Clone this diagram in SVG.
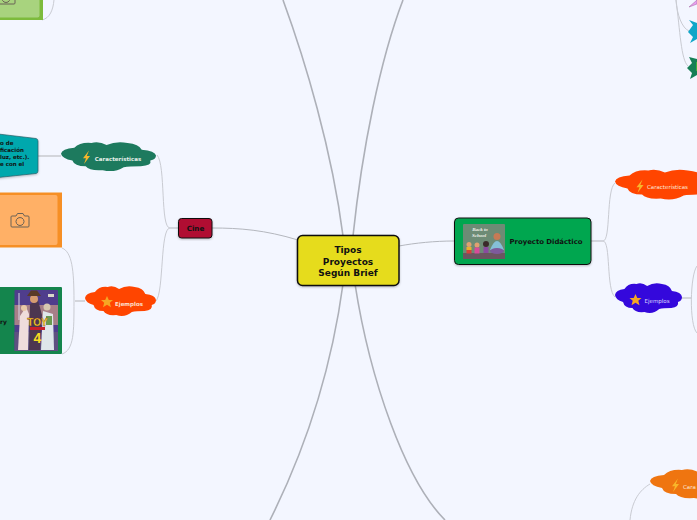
<svg xmlns="http://www.w3.org/2000/svg" width="697" height="520" viewBox="0 0 697 520">
<style>
text{font-family:"DejaVu Sans",sans-serif;text-anchor:middle}
.b{font-weight:700;fill:#111}
.l{text-anchor:start}
.w{font-weight:700;fill:#e6efe9;font-size:5.5px}
.t{font-weight:400;fill:#fde6d8;font-size:5.500px}
.c{fill:none;stroke:#c9cbd2;stroke-width:1}
.h{fill:none;stroke:#d3d5db;stroke-width:2}
.m{fill:none;stroke:#adb0b8;stroke-width:1.600}
.n{fill:none;stroke:#b4b7be;stroke-width:1}
</style>
<defs>
<filter id="s" x="-10%" y="-10%" width="120%" height="125%"><feDropShadow dx="0" dy="1" stdDeviation="1" flood-color="#000" flood-opacity=".25"/></filter>
<path id="cloud" d="M0 12Q1 7 14 6Q20 0 32 1Q40 -1 48 3Q58 -1 70 1Q82 2 85 8Q99 9 100 14Q100 18 94 19Q96 24 84 25Q72 25 66 26Q56 32 44 29Q30 30 26 25Q14 25 12 19Q1 17 0 12Z"/>
<path id="bolt" d="M3 -6.500L-3 1.200H0L-2 7L4 -1H0.800Z" fill="#f8b62a"/>
<path id="star" d="M0 -6L1.800 -2H6L2.800 .8L4 5.200L0 2.800L-4 5.200L-2.800 .8L-6 -2H-1.800Z" fill="#f6a623"/>
<path id="cam" d="M-8 -4H-4L-2.500 -6.500H3L4.500 -4H8Q9 -4 9 -3V6Q9 7 8 7H-8Q-9 7 -9 6V-3Q-9 -4 -8 -4Z M0 -2.500A4 4 0 1 0 .01 -2.500Z" fill="none" stroke="#6b6256" stroke-width="1"/>
</defs>
<rect width="697" height="520" fill="#f3f6ff"/>
<g id="connectors">
<path class="m" d="M283 0C305 60 332 150 343 236"/>
<path class="m" d="M403 0C380 60 362 150 353 236"/>
<path class="m" d="M343 284C330 380 300 460 270 520"/>
<path class="m" d="M355 284C370 380 405 480 445 520"/>
<path class="n" d="M298 240C265 230 240 228 212 228"/>
<path class="n" d="M399 246C415 243 435 241 454 241"/>
<path class="c" d="M178 228H170C160 228 166 165 157 155"/>
<path class="c" d="M178 228H170C160 228 164 292 156 301"/>
<path class="h" d="M61 156H38"/>
<path class="h" d="M85 301H75"/>
<path class="c" d="M62 248C72 252 74 270 74 301C74 332 74 350 62 354"/>
<path class="c" d="M591 241H603C611 241 606 190 615 183"/>
<path class="c" d="M591 241H603C611 241 606 290 615 297"/>
<path class="h" d="M681 298H691"/>
<path class="c" d="M697 266C690 275 689 325 697 333"/>
<path class="c" d="M630 520C632 500 640 490 650 484"/>
<path class="c" d="M42 20C50 18 53 10 54 0"/>
<path class="c" d="M676 0C677 15 682 28 689 31"/>
<path class="c" d="M676 0C680 30 681 60 688 66"/>
</g>
<g id="central"><rect x="297.500" y="235.500" width="101.500" height="50" rx="5" fill="#e6dc1a" stroke="#111" stroke-width="1.500" filter="url(#s)"/>
<text class="b" font-size="9" x="348" y="253">Tipos</text><text class="b" font-size="9" x="348" y="264.500">Proyectos</text><text class="b" font-size="9" x="348" y="275.500">Según Brief</text></g>
<g id="cine"><rect x="178.500" y="218.500" width="33.500" height="19.500" rx="3" fill="#b00d30" stroke="#111" filter="url(#s)"/><text class="b" font-size="7.200" x="195.500" y="231">Cine</text></g>
<g id="didactico"><rect x="454.500" y="218" width="136.500" height="46.500" rx="4" fill="#06a650" stroke="#111" filter="url(#s)"/>
<rect x="463" y="224" width="42" height="35" rx="1" fill="#6d8b75"/>
<rect x="463" y="253" width="42" height="6" fill="#6b5560"/>
<circle cx="497" cy="236.500" r="3.500" fill="#c77a55"/><path d="M490 250Q497 232 504 250Z" fill="#85c0d8"/><ellipse cx="497" cy="251" rx="7" ry="3" fill="#7d5a9c"/>
<circle cx="486" cy="244" r="3" fill="#3a2a2a"/><rect x="483.500" y="247" width="5" height="6" fill="#8a4aa0"/>
<circle cx="477" cy="245" r="2.500" fill="#e0a070"/><rect x="474.500" y="247.500" width="5" height="6" fill="#d84a9a"/>
<circle cx="469" cy="244.500" r="2.500" fill="#e0a070"/><rect x="466.500" y="247" width="5" height="3" fill="#e8b030"/><rect x="466.500" y="250" width="5" height="3.500" fill="#d8403a"/>
<text x="480" y="231" font-size="5" font-weight="700" font-style="italic" fill="#f2f4ec" style="font-family:'Liberation Serif',serif">Back to</text><text x="479" y="236.500" font-size="5" font-weight="700" font-style="italic" fill="#f2f4ec" style="font-family:'Liberation Serif',serif">School</text>
<text class="b" font-size="6.900" x="546" y="244">Proyecto Didáctico</text></g>
<g id="car-cine"><use href="#cloud" fill="#1d7a5e" transform="translate(61,142) scale(.95,.97)"/><use href="#bolt" x="86" y="157"/><text class="w" x="118" y="161">Características</text></g>
<g id="teal"><path d="M-2 134L36 138.500Q38 139 38 141V171Q38 173 36 173.500L-2 177.500Z" fill="#01a8ad" stroke="#2a6068" stroke-width=".7" filter="url(#s)"/>
<text class="b l" font-size="5.500" x="0" y="145">o de</text><text class="b l" font-size="5.500" x="0" y="152">ficación</text><text class="b l" font-size="5.500" x="0" y="158.500">luz, etc.).</text><text class="b l" font-size="5.500" x="0" y="165.500">e con el</text></g>
<g id="foto-cine"><rect x="-8" y="192.500" width="70" height="55" fill="#f68f25"/><rect x="-8" y="195" width="65.500" height="50" rx="2" fill="#ffb066"/><use href="#cam" x="20" y="220"/></g>
<g id="ej-cine"><use href="#cloud" fill="#ff4500" transform="translate(85,286) scale(.71,1)"/><use href="#star" x="107" y="302"/><text class="w" x="129" y="306" style="fill:#fde0d0">Ejemplos</text></g>
<g id="toy"><rect x="-8" y="287" width="70" height="67" rx="1" fill="#14854d"/><text class="b l" font-size="6" x="0" y="324">ry</text>
<rect x="14.500" y="290" width="43.500" height="61" rx="1" fill="#4f3d8c"/><rect x="14.500" y="305" width="43.500" height="20" fill="#a77f88"/><rect x="14.500" y="332" width="43.500" height="19" fill="#5e5080"/>
<path d="M19 293V320" stroke="#d8d8e8" fill="none"/><path d="M18 350L20 316L26 307L29 314L28 350Z" fill="#efdcdc"/><circle cx="24" cy="308" r="3" fill="#e8c8a8"/>
<path d="M29 350L30 304L38 300L42 315L40 350Z" fill="#4c3650"/><circle cx="34" cy="299" r="4" fill="#d69c70"/><path d="M27 296H41L37 290.500H31Z" fill="#5a3a28"/>
<path d="M41 350L43 311L53 314L54 350Z" fill="#dfe6ea"/><rect x="46" y="316" width="6" height="9" fill="#6a9a50"/><circle cx="47" cy="307" r="3.500" fill="#d8c8b0"/><rect x="48" y="294" width="6" height="3" fill="#d8d8c8"/>
<text x="37.500" y="326" font-size="10" font-weight="700" fill="#f8dc20" style="font-family:'Liberation Sans',sans-serif" stroke="#7a2030" stroke-width=".3">TOY</text><rect x="30" y="327" width="15" height="3" fill="#c8202a"/><text x="37.500" y="343" font-size="14" font-weight="700" fill="#f8dc20" style="font-family:'Liberation Sans',sans-serif">4</text></g>
<g id="foto-top"><rect x="-8" y="-10" width="51" height="30" fill="#7dbb3c"/><rect x="-8" y="-10" width="47.500" height="27.500" rx="2" fill="#a8d37e"/><use href="#cam" x="6" y="-3"/></g>
<g id="car-did"><use href="#cloud" fill="#ff4500" transform="translate(615,169.500) scale(1.040,1)"/><use href="#bolt" x="639.500" y="186"/><text class="t" x="667.500" y="189">Características</text></g>
<g id="ej-did"><use href="#cloud" fill="#3408dc" transform="translate(615,283) scale(.67,1)"/><use href="#star" x="635.500" y="300"/><text class="t" x="657" y="303" style="fill:#dcd8ff">Ejemplos</text></g>
<g id="car-bot"><use href="#cloud" fill="#ef7510" transform="translate(650,469)"/><use href="#bolt" x="675" y="485"/><text class="t l" x="683" y="488.500">Cara</text></g>
<g id="pink"><path d="M689 7L697 0V4Z" fill="#e8a0ee" stroke="#a060a0" stroke-width=".5"/></g>
<g id="star-blue"><path d="M689 20L697 23V39L690 43L693 37L688 32L693 25Z" fill="#0fa6c8"/></g>
<g id="star-green"><path d="M689 57L697 59V75L690 79L692 73L687 68L692 63Z" fill="#157f55"/><rect x="696" y="62" width="1" height="9" fill="#3fb03a"/></g>
</svg>
